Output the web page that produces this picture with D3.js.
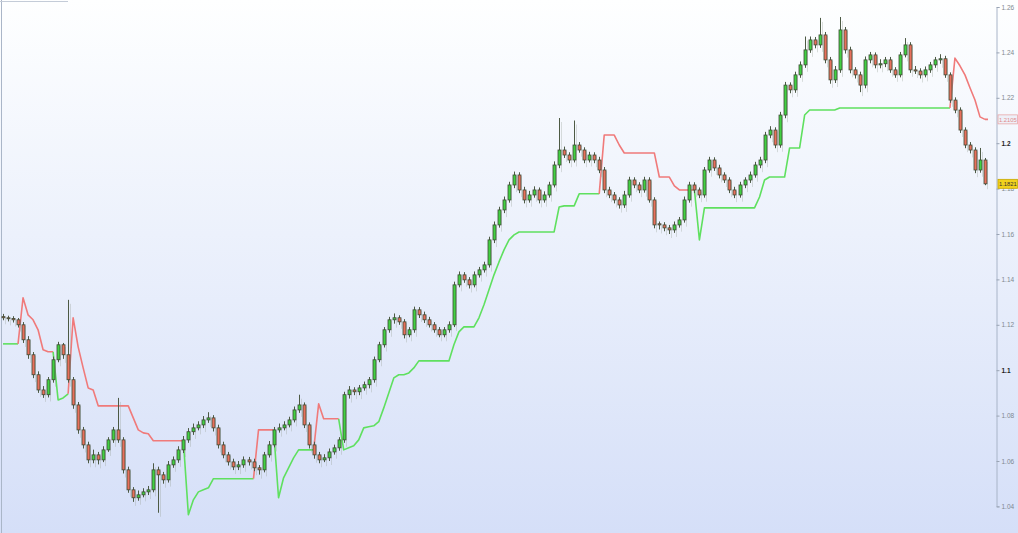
<!DOCTYPE html>
<html><head><meta charset="utf-8">
<script src="https://cdn.jsdelivr.net/npm/d3@7/dist/d3.min.js"></script>
<style>html,body{margin:0;padding:0;overflow:hidden;background:#fff}</style>
</head><body><svg id="c" width="1018" height="533"></svg>
<script>
const opens=[1.1236,1.1231,1.1228,1.1222,1.1200,1.1134,1.1068,1.0980,1.0913,1.0892,
1.0958,1.1046,1.1112,1.1068,1.0958,1.0847,1.0737,1.0671,1.0605,1.0627,
1.0605,1.0649,1.0693,1.0737,1.0693,1.0561,1.0473,1.0438,1.0451,1.0464,
1.0473,1.0561,1.0539,1.0517,1.0583,1.0605,1.0649,1.0693,1.0729,1.0746,
1.0759,1.0781,1.0790,1.0746,1.0671,1.0627,1.0596,1.0574,1.0583,1.0605,
1.0596,1.0570,1.0561,1.0627,1.0671,1.0737,1.0746,1.0759,1.0781,1.0825,
1.0847,1.0759,1.0671,1.0627,1.0605,1.0614,1.0640,1.0658,1.0693,1.0892,
1.0913,1.0905,1.0922,1.0936,1.0958,1.1046,1.1112,1.1178,1.1222,1.1231,
1.1213,1.1156,1.1178,1.1266,1.1244,1.1222,1.1200,1.1178,1.1156,1.1178,
1.1200,1.1376,1.1420,1.1398,1.1376,1.1420,1.1442,1.1464,1.1574,1.1640,
1.1706,1.1750,1.1816,1.1860,1.1794,1.1750,1.1772,1.1794,1.1750,1.1772,
1.1816,1.1904,1.1970,1.1948,1.1926,1.1992,1.1970,1.1926,1.1948,1.1926,
1.1882,1.1794,1.1772,1.1750,1.1728,1.1772,1.1838,1.1816,1.1794,1.1838,
1.1750,1.1645,1.1640,1.1627,1.1618,1.1640,1.1662,1.1750,1.1816,1.1794,
1.1772,1.1882,1.1926,1.1891,1.1860,1.1838,1.1794,1.1772,1.1816,1.1838,
1.1860,1.1904,1.1926,1.2036,1.2058,1.1992,1.2124,1.2256,1.2235,1.2301,
1.2345,1.2411,1.2455,1.2433,1.2477,1.2367,1.2279,1.2323,1.2499,1.2411,
1.2323,1.2301,1.2256,1.2367,1.2389,1.2345,1.2350,1.2367,1.2323,1.2301,
1.2389,1.2433,1.2323,1.2318,1.2301,1.2323,1.2345,1.2367,1.2372,1.2301,
1.2190,1.2146,1.2058,1.1992,1.1970,1.1882,1.1926];
const highs=[1.1248,1.1240,1.1238,1.1230,1.1212,1.1150,1.1080,1.0995,1.0930,1.0970,
1.1060,1.1125,1.1120,1.1310,1.0970,1.0860,1.0750,1.0685,1.0650,1.0640,
1.0665,1.0705,1.0750,1.0878,1.0705,1.0575,1.0485,1.0470,1.0480,1.0490,
1.0590,1.0575,1.0552,1.0600,1.0620,1.0665,1.0710,1.0745,1.0765,1.0775,
1.0798,1.0815,1.0802,1.0760,1.0685,1.0640,1.0610,1.0600,1.0620,1.0618,
1.0610,1.0582,1.0640,1.0688,1.0750,1.0765,1.0775,1.0795,1.0840,1.0892,
1.0858,1.0770,1.0685,1.0640,1.0630,1.0655,1.0672,1.0705,1.0905,1.0930,
1.0925,1.0935,1.0950,1.0970,1.1060,1.1125,1.1190,1.1235,1.1250,1.1242,
1.1225,1.1190,1.1280,1.1278,1.1258,1.1235,1.1212,1.1190,1.1190,1.1215,
1.1390,1.1435,1.1432,1.1410,1.1435,1.1455,1.1478,1.1588,1.1655,1.1720,
1.1765,1.1830,1.1875,1.1872,1.1808,1.1790,1.1810,1.1805,1.1788,1.1830,
1.1920,1.2111,1.1985,1.1960,1.2100,1.2005,1.1982,1.1962,1.1960,1.1940,
1.1895,1.1808,1.1785,1.1762,1.1790,1.1852,1.1850,1.1828,1.1852,1.1850,
1.1762,1.1655,1.1652,1.1640,1.1655,1.1675,1.1765,1.1830,1.1828,1.1805,
1.1895,1.1940,1.1938,1.1905,1.1872,1.1850,1.1808,1.1830,1.1850,1.1875,
1.1918,1.1940,1.2050,1.2075,1.2070,1.2138,1.2270,1.2268,1.2315,1.2360,
1.2470,1.2470,1.2468,1.2552,1.2490,1.2380,1.2340,1.2556,1.2512,1.2425,
1.2335,1.2315,1.2382,1.2402,1.2400,1.2370,1.2380,1.2380,1.2335,1.2402,
1.2463,1.2445,1.2340,1.2330,1.2338,1.2358,1.2380,1.2392,1.2385,1.2312,
1.2202,1.2158,1.2070,1.2005,1.1982,1.1979,1.1935];
const lows=[1.1220,1.1215,1.1210,1.1188,1.1120,1.1050,1.0965,1.0900,1.0878,1.0880,
1.0945,1.1035,1.1050,1.0945,1.0830,1.0720,1.0655,1.0590,1.0590,1.0585,
1.0595,1.0640,1.0680,1.0680,1.0545,1.0460,1.0420,1.0425,1.0440,1.0450,
1.0462,1.0372,1.0500,1.0505,1.0570,1.0592,1.0635,1.0680,1.0715,1.0735,
1.0745,1.0768,1.0730,1.0655,1.0612,1.0580,1.0560,1.0560,1.0570,1.0580,
1.0555,1.0540,1.0550,1.0615,1.0660,1.0725,1.0735,1.0748,1.0770,1.0812,
1.0745,1.0655,1.0610,1.0590,1.0595,1.0600,1.0628,1.0645,1.0680,1.0875,
1.0890,1.0890,1.0910,1.0920,1.0945,1.1035,1.1100,1.1165,1.1205,1.1200,
1.1140,1.1145,1.1165,1.1230,1.1208,1.1188,1.1165,1.1145,1.1145,1.1165,
1.1190,1.1365,1.1385,1.1360,1.1365,1.1408,1.1430,1.1452,1.1560,1.1628,
1.1692,1.1738,1.1802,1.1780,1.1735,1.1738,1.1760,1.1735,1.1738,1.1760,
1.1805,1.1890,1.1935,1.1912,1.1915,1.1958,1.1912,1.1915,1.1912,1.1868,
1.1780,1.1758,1.1735,1.1712,1.1715,1.1760,1.1802,1.1780,1.1782,1.1738,
1.1625,1.1620,1.1612,1.1600,1.1605,1.1628,1.1650,1.1738,1.1780,1.1758,
1.1760,1.1870,1.1878,1.1845,1.1825,1.1780,1.1758,1.1760,1.1802,1.1825,
1.1848,1.1890,1.1912,1.2022,1.1978,1.1980,1.2110,1.2220,1.2222,1.2288,
1.2332,1.2398,1.2418,1.2420,1.2352,1.2262,1.2265,1.2310,1.2395,1.2308,
1.2285,1.2225,1.2242,1.2352,1.2330,1.2330,1.2335,1.2310,1.2288,1.2290,
1.2378,1.2310,1.2305,1.2285,1.2290,1.2310,1.2332,1.2350,1.2288,1.2178,
1.2132,1.2045,1.1978,1.1955,1.1868,1.1870,1.1815];
const closes=[1.1231,1.1228,1.1222,1.1200,1.1134,1.1068,1.0980,1.0913,1.0892,1.0958,
1.1046,1.1112,1.1068,1.0958,1.0847,1.0737,1.0671,1.0605,1.0627,1.0605,
1.0649,1.0693,1.0737,1.0693,1.0561,1.0473,1.0438,1.0451,1.0464,1.0473,
1.0561,1.0539,1.0517,1.0583,1.0605,1.0649,1.0693,1.0729,1.0746,1.0759,
1.0781,1.0790,1.0746,1.0671,1.0627,1.0596,1.0574,1.0583,1.0605,1.0596,
1.0570,1.0561,1.0627,1.0671,1.0737,1.0746,1.0759,1.0781,1.0825,1.0847,
1.0759,1.0671,1.0627,1.0605,1.0614,1.0640,1.0658,1.0693,1.0892,1.0913,
1.0905,1.0922,1.0936,1.0958,1.1046,1.1112,1.1178,1.1222,1.1231,1.1213,
1.1156,1.1178,1.1266,1.1244,1.1222,1.1200,1.1178,1.1156,1.1178,1.1200,
1.1376,1.1420,1.1398,1.1376,1.1420,1.1442,1.1464,1.1574,1.1640,1.1706,
1.1750,1.1816,1.1860,1.1794,1.1750,1.1772,1.1794,1.1750,1.1772,1.1816,
1.1904,1.1970,1.1948,1.1926,1.1992,1.1970,1.1926,1.1948,1.1926,1.1882,
1.1794,1.1772,1.1750,1.1728,1.1772,1.1838,1.1816,1.1794,1.1838,1.1750,
1.1640,1.1640,1.1627,1.1618,1.1640,1.1662,1.1750,1.1816,1.1794,1.1772,
1.1882,1.1926,1.1891,1.1860,1.1838,1.1794,1.1772,1.1816,1.1838,1.1860,
1.1904,1.1926,1.2036,1.2058,1.1992,1.2124,1.2256,1.2235,1.2301,1.2345,
1.2411,1.2455,1.2433,1.2477,1.2367,1.2279,1.2323,1.2499,1.2411,1.2323,
1.2301,1.2256,1.2367,1.2389,1.2345,1.2350,1.2367,1.2323,1.2301,1.2389,
1.2433,1.2323,1.2318,1.2301,1.2323,1.2345,1.2367,1.2372,1.2301,1.2190,
1.2146,1.2058,1.1992,1.1970,1.1882,1.1926,1.1821];
const _=null;
const lowerStop=[1.1116,1.1116,1.1116,1.1116,_,_,_,_,_,_,
_,1.0869,1.0878,1.0896,_,_,_,_,_,_,
_,_,_,_,_,_,_,_,_,_,
_,_,_,_,_,_,_,1.0363,1.0429,1.0464,
1.0473,1.0482,1.0522,1.0522,1.0522,1.0522,1.0522,1.0522,1.0522,1.0522,
1.0522,_,_,_,_,1.0438,1.0526,1.0570,1.0614,1.0649,
1.0649,1.0649,1.0649,_,_,_,_,_,1.0649,1.0658,
1.0667,1.0693,1.0746,1.0751,1.0755,1.0773,1.0834,1.0900,1.0966,1.0980,
1.0980,1.0988,1.1010,1.1041,1.1041,1.1041,1.1041,1.1041,1.1041,1.1041,
1.1112,1.1169,1.1191,1.1191,1.1191,1.1231,1.1288,1.1354,1.1420,1.1477,
1.1530,1.1574,1.1596,1.1609,1.1609,1.1609,1.1609,1.1609,1.1609,1.1609,
1.1609,1.1719,1.1724,1.1724,1.1724,1.1777,1.1777,1.1777,1.1777,1.1777,
_,_,_,_,_,_,_,_,_,_,
_,_,_,_,_,_,_,_,_,1.1574,
1.1715,1.1715,1.1715,1.1715,1.1715,1.1715,1.1715,1.1715,1.1715,1.1715,
1.1715,1.1763,1.1838,1.1851,1.1851,1.1851,1.1851,1.1979,1.1979,1.1979,
1.2124,1.2146,1.2146,1.2146,1.2146,1.2146,1.2146,1.2155,1.2155,1.2155,
1.2155,1.2155,1.2155,1.2155,1.2155,1.2155,1.2155,1.2155,1.2155,1.2155,
1.2155,1.2155,1.2155,1.2155,1.2155,1.2155,1.2155,1.2155,1.2155,1.2155,
_,_,_,_,_,_,_];
const upperStop=[_,_,_,_,1.1319,1.1244,1.1222,1.1178,1.1090,1.1081,
1.1081,_,_,_,1.1231,1.1103,1.1010,1.0922,1.0913,1.0843,
1.0843,1.0843,1.0843,1.0843,1.0843,1.0843,1.0790,1.0737,1.0724,1.0720,
1.0689,1.0689,1.0689,1.0689,1.0689,1.0689,1.0689,_,_,_,
_,_,_,_,_,_,_,_,_,_,
_,1.0737,1.0737,1.0737,1.0737,_,_,_,_,_,
_,_,_,1.0852,1.0786,1.0786,1.0786,1.0786,_,_,
_,_,_,_,_,_,_,_,_,_,
_,_,_,_,_,_,_,_,_,_,
_,_,_,_,_,_,_,_,_,_,
_,_,_,_,_,_,_,_,_,_,
_,_,_,_,_,_,_,_,_,_,
1.2036,1.2036,1.2036,1.1992,1.1957,1.1957,1.1957,1.1957,1.1957,1.1957,
1.1957,1.1851,1.1851,1.1851,1.1812,1.1794,1.1794,1.1794,1.1794,_,
_,_,_,_,_,_,_,_,_,_,
_,_,_,_,_,_,_,_,_,_,
_,_,_,_,_,_,_,_,_,_,
_,_,_,_,_,_,_,_,_,_,
_,_,_,_,_,_,_,_,_,_,
1.2375,1.2341,1.2301,1.2244,1.2190,1.2116,1.2105];
const tickValues=[1.26,1.24,1.22,1.2,1.18,1.16,1.14,1.12,1.1,1.08,1.06,1.04];
const tickLabels=["1.26","1.24","1.22","1.2","1.18","1.16","1.14","1.12","1.1","1.08","1.06","1.04"];
const boldTicks=["1.2","1.1"];

const W=1018,H=533,AX=996.5;
const svg=d3.select('#c');
const defs=svg.append('defs');
const gr=defs.append('linearGradient').attr('id','bg').attr('x1',0).attr('y1',0).attr('x2',0).attr('y2',1);
gr.append('stop').attr('offset','0%').attr('stop-color','#feffff');
gr.append('stop').attr('offset','100%').attr('stop-color','#d5dff8');
svg.append('rect').attr('width',W).attr('height',H).attr('fill','url(#bg)');
defs.append('clipPath').attr('id','plot').append('rect').attr('x',0).attr('y',0).attr('width',AX).attr('height',H);

const N=closes.length;
const x=d3.scaleLinear().domain([0,N-1]).range([3,985]);
const y=d3.scaleLinear().domain([1.04,1.26]).range([506.4,7]);

// frame lines
svg.append('line').attr('x1',1.5).attr('x2',1.5).attr('y1',0).attr('y2',H).attr('stroke','#aab6c8').attr('stroke-width',1);
svg.append('line').attr('x1',0).attr('x2',68).attr('y1',1.5).attr('y2',1.5).attr('stroke','#c4ccd8').attr('stroke-width',1);

const plot=svg.append('g').attr('clip-path','url(#plot)');

// stop line: one path per colour run, each run starting at the previous point
const pts=d3.range(N).map(i=>({i,v:lowerStop[i]!=null?lowerStop[i]:upperStop[i],up:lowerStop[i]!=null}));
const runs=[];
for(let i=0;i<N;i++){
  const p=pts[i];
  if(p.v==null) continue;
  const last=runs[runs.length-1];
  if(last && last.up===p.up && last.end===i-1){last.pts.push(p);last.end=i;}
  else{
    const r={up:p.up,pts:[],end:i};
    if(i>0 && pts[i-1].v!=null) r.pts.push(pts[i-1]);
    r.pts.push(p);runs.push(r);
  }
}
const line=d3.line().x(d=>x(d.i)).y(d=>y(d.v));
plot.selectAll('path.stop').data(runs).join('path').attr('class','stop')
  .attr('d',r=>line(r.pts)).attr('fill','none')
  .attr('stroke',r=>r.up?'#5fe05f':'#f07a7a').attr('stroke-width',1.6).attr('stroke-linejoin','round');
plot.append('line').attr('x1',x(N-1)).attr('x2',x(N-1)+3).attr('y1',y(upperStop[N-1])).attr('y2',y(upperStop[N-1])).attr('stroke','#f07a7a').attr('stroke-width',1.6);

// candles
const cg=plot.append('g');
const bars=d3.range(N).map(i=>({i,o:opens[i],h:highs[i],l:lows[i],c:closes[i]}));
// faint shadow copies
cg.selectAll('line.s').data(bars).join('line').attr('class','s')
  .attr('x1',d=>Math.round(x(d.i))+2.5).attr('x2',d=>Math.round(x(d.i))+2.5)
  .attr('y1',d=>y(d.h)+4).attr('y2',d=>y(d.l)+4).attr('stroke','#9aa29a').attr('stroke-opacity',0.35).attr('stroke-width',1);
cg.selectAll('line.w').data(bars).join('line').attr('class','w')
  .attr('x1',d=>Math.round(x(d.i))+0.5).attr('x2',d=>Math.round(x(d.i))+0.5)
  .attr('y1',d=>y(d.h)).attr('y2',d=>y(d.l)).attr('stroke','#4d5a44').attr('stroke-width',1);
cg.selectAll('rect.b').data(bars).join('rect').attr('class','b')
  .attr('x',d=>Math.round(x(d.i))-1.5+0.5).attr('width',3)
  .attr('y',d=>y(Math.max(d.o,d.c))).attr('height',d=>Math.max(1,Math.abs(y(d.o)-y(d.c))))
  .attr('fill',d=>d.c>=d.o?'#42d042':'#e8705c').attr('stroke','#3e4a36').attr('stroke-width',0.8);

// axis
const axis=d3.axisRight(y).tickValues(tickValues).tickSize(3).tickPadding(2)
  .tickFormat((d,i)=>tickLabels[i]);
const ag=svg.append('g').attr('transform',`translate(${AX},0)`).call(axis);
ag.select('.domain').attr('stroke','#a8b4c8');
ag.selectAll('.tick line').attr('stroke','#9aa4b4');
ag.selectAll('.tick text').attr('fill',(d,i)=>boldTicks.includes(tickLabels[i])?'#222':'#808890')
  .attr('font-weight',(d,i)=>boldTicks.includes(tickLabels[i])?'bold':'normal')
  .attr('font-family','Liberation Sans, Arial, sans-serif').attr('font-size',6.5);

// price tags
function tag(v,fill,stroke,color){
  const gy=y(v);
  const g=svg.append('g');
  g.append('rect').attr('x',AX+1.5).attr('y',gy-4.5).attr('width',W-AX-2).attr('height',9)
    .attr('fill',fill).attr('stroke',stroke).attr('stroke-width',0.8);
  g.append('text').attr('x',AX+2.5).attr('y',gy+2.2).text(v.toFixed(4))
    .attr('font-family','Liberation Sans, Arial, sans-serif').attr('font-size',5.8).attr('fill',color);
}
tag(upperStop[N-1],'#eef0f8','#e8a8a8','#e08a8a');
tag(closes[N-1],'#f2d21c','#c8a800','#333');
</script></body></html>
